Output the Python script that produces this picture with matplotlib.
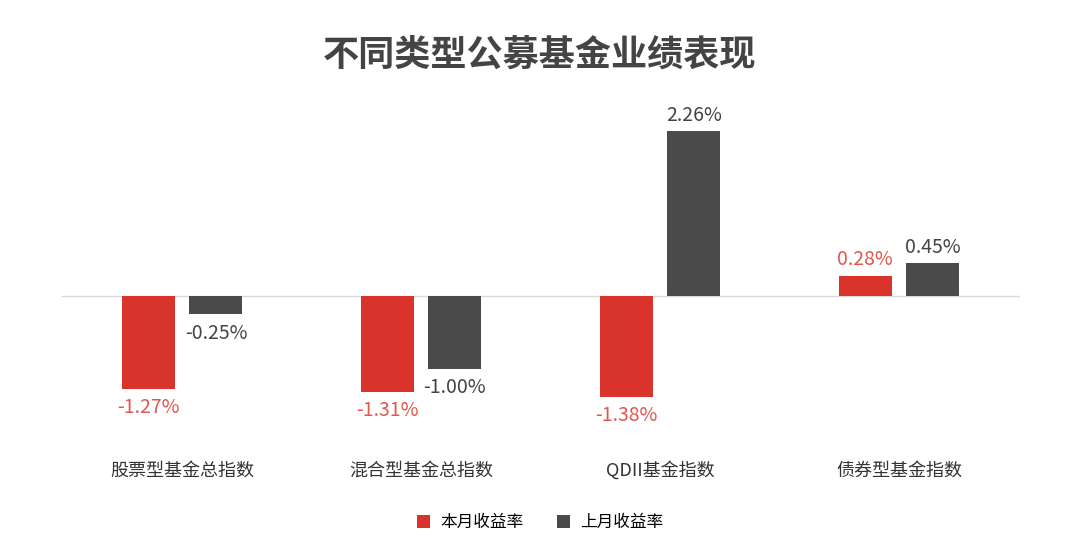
import matplotlib
matplotlib.use("Agg")
import matplotlib.pyplot as plt
import numpy as np

plt.rcParams['font.family'] = ['Noto Sans CJK SC', 'DejaVu Sans']

categories = ["股票型基金总指数", "混合型基金总指数", "QDII基金指数", "债券型基金指数"]
this_month = [-1.27, -1.31, -1.38, 0.28]
last_month = [-0.25, -1.00, 2.26, 0.45]
series_names = ["本月收益率", "上月收益率"]

red = "#d9342b"
gray = "#4a4a4a"

fig = plt.figure(figsize=(10.8, 5.55), dpi=100)
ax = fig.add_axes([0.0574, 0.207, 0.887, 0.6126])
x = np.arange(len(categories))
w = 0.222
off = 0.142
b1 = ax.bar(x - off, this_month, w, color=red, label=series_names[0])
b2 = ax.bar(x + off, last_month, w, color=gray, label=series_names[1])
ax.set_xlim(-0.502, 3.506)
ax.set_ylim(-1.973, 2.685)
ax.axhline(0, color="#d9d9d9", lw=1, zorder=0)
for s in ax.spines.values():
    s.set_visible(False)
ax.set_yticks([])
ax.set_xticks([])

for bars, vals, col in [(b1, this_month, "#e0584f"), (b2, last_month, "#444444")]:
    for b, v in zip(bars, vals):
        cx = b.get_x() + b.get_width() / 2
        if v >= 0:
            ax.annotate(f"{v:.2f}%", (cx, v), xytext=(0, 4), textcoords="offset points",
                        ha="center", va="bottom", fontsize=14, color=col)
        else:
            ax.annotate(f"{v:.2f}%", (cx, v), xytext=(0, -6), textcoords="offset points",
                        ha="center", va="top", fontsize=14, color=col)

for i, c in enumerate(categories):
    ax.text(i, -2.385, c, ha="center", va="center", fontsize=13, color="#333333",
            transform=ax.transData, clip_on=False)

fig.text(0.5, 0.90, "不同类型公募基金业绩表现", ha="center", va="center",
         fontsize=26, fontweight="bold", color="#444444")
fig.legend(handles=[b1, b2], labels=series_names, loc="center", bbox_to_anchor=(0.5, 0.058),
           ncol=2, frameon=False, fontsize=12, handlelength=0.8, handleheight=0.8,
           columnspacing=2.0, handletextpad=0.6)
fig.savefig("out.png", dpi=100, facecolor="white")
